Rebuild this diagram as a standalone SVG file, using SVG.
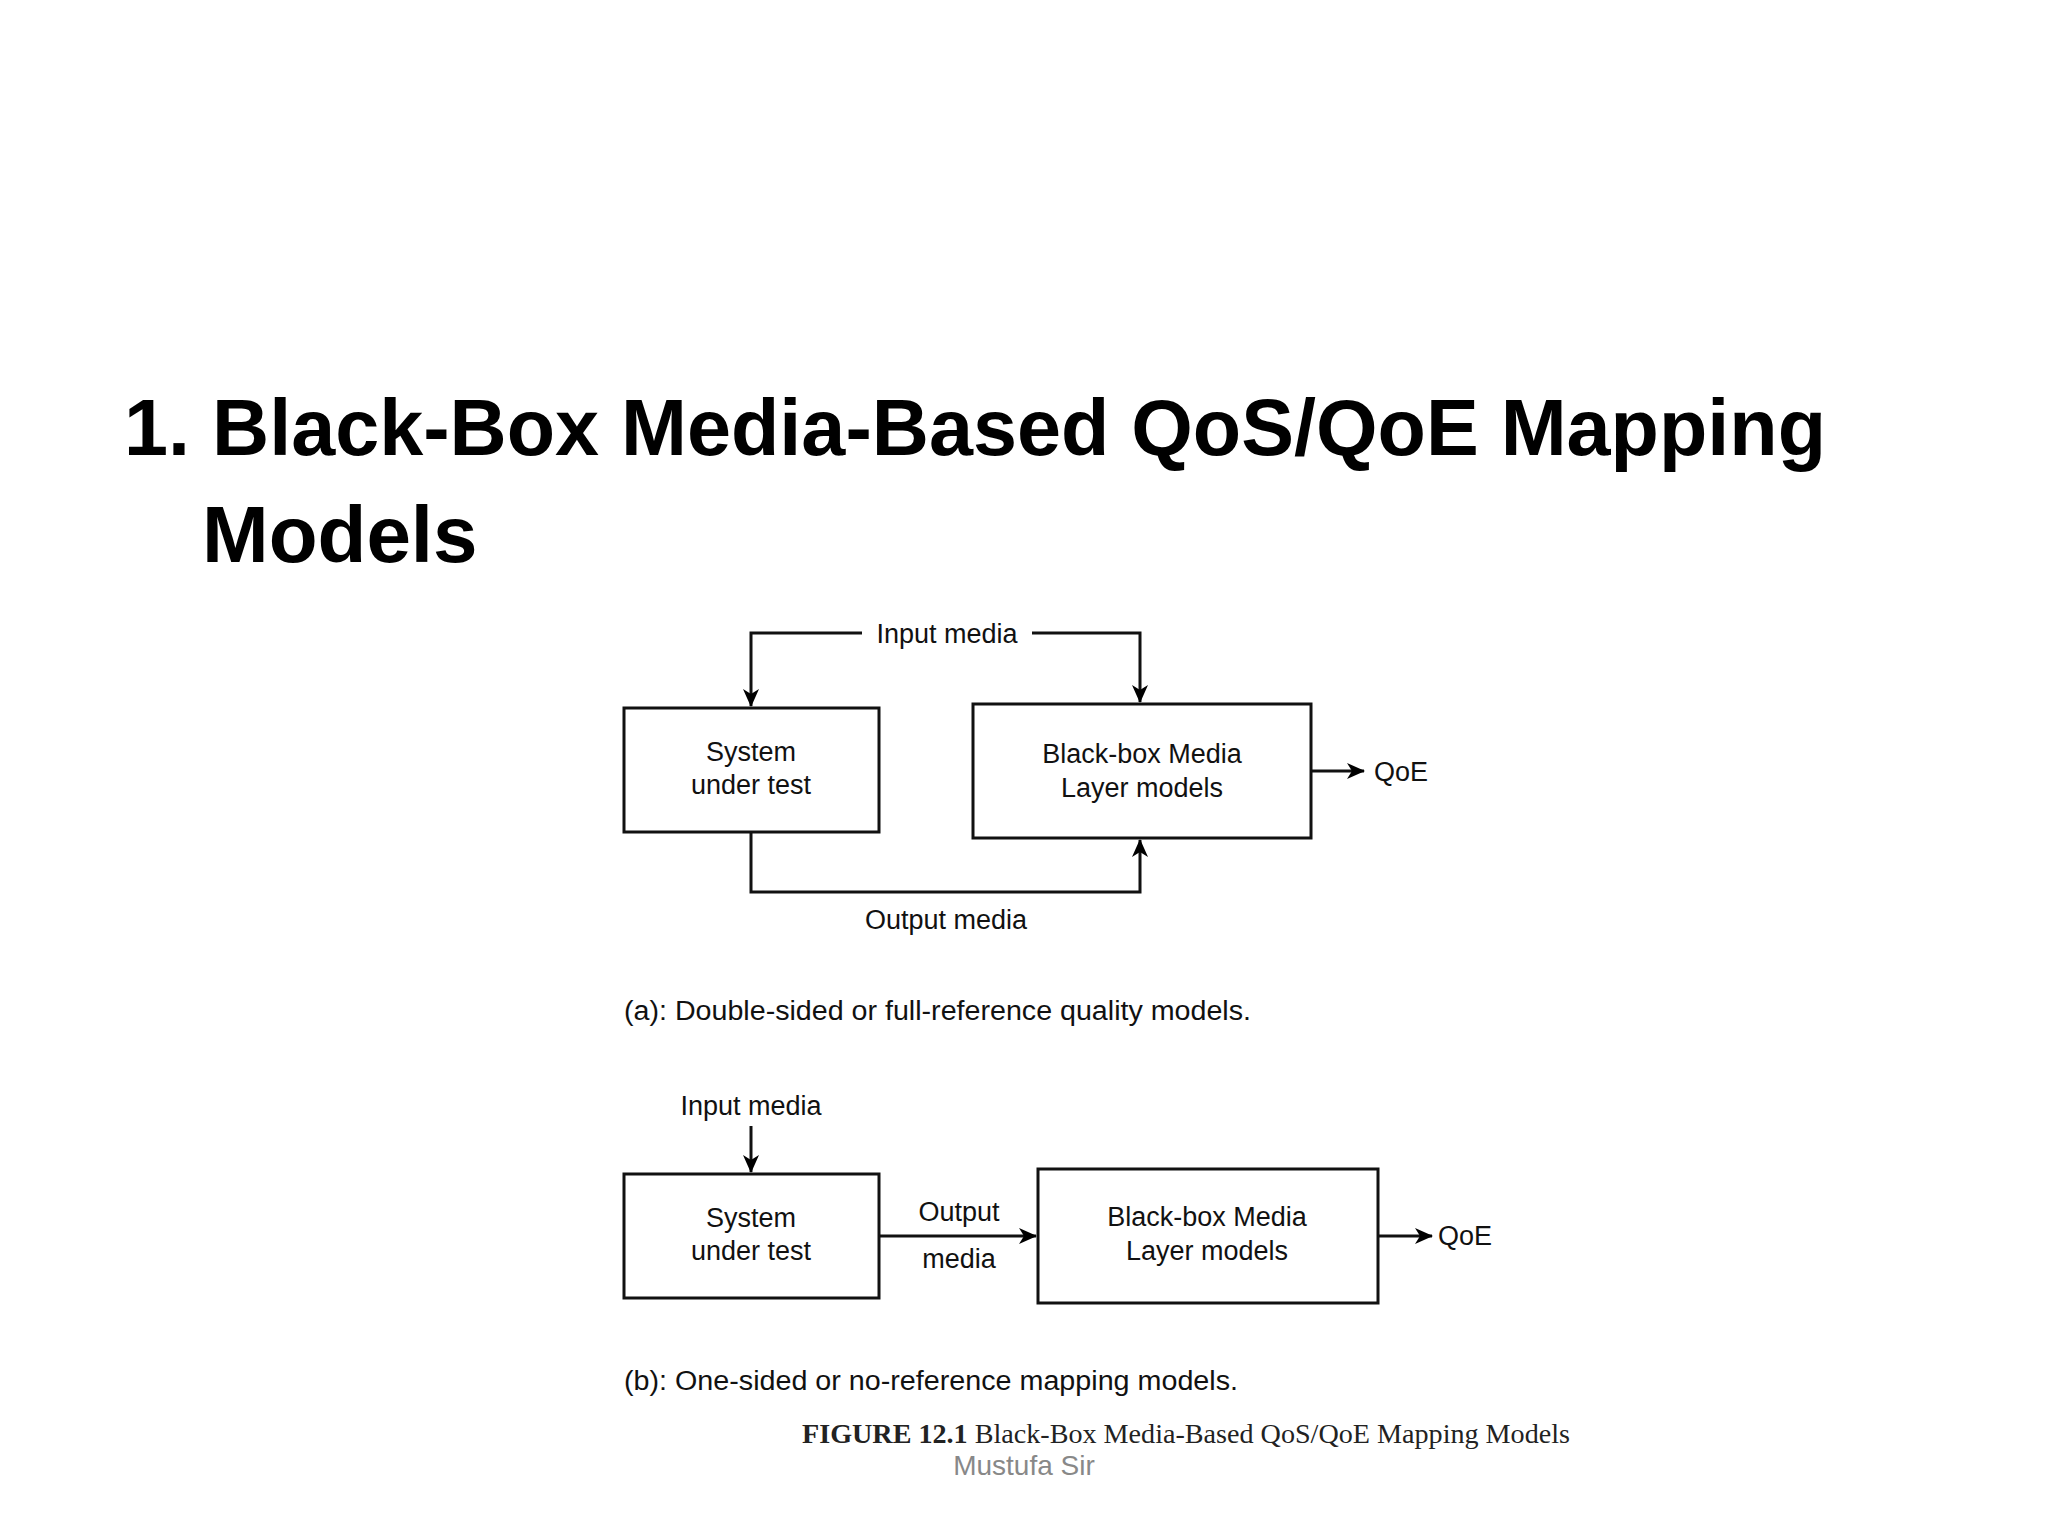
<svg xmlns="http://www.w3.org/2000/svg" width="2048" height="1536" viewBox="0 0 2048 1536">
<defs>
<marker id="ah" markerWidth="18" markerHeight="16" refX="17" refY="8" orient="auto" markerUnits="userSpaceOnUse"><path d="M0,0 L18,8 L0,16 L5,8 Z" fill="#000"/></marker>
<style>
.box{fill:#fff;stroke:#111;stroke-width:3}
.ln{fill:none;stroke:#111;stroke-width:3}
.t{font-family:"Liberation Sans",Arial,sans-serif;font-size:27px;fill:#111}
.c{text-anchor:middle}
.h{font-family:"Liberation Sans",Arial,sans-serif;font-weight:bold;font-size:80px;fill:#000}
</style>
</defs>
<rect width="2048" height="1536" fill="#fff"/>
<text class="h" x="124" y="455" textLength="1702" lengthAdjust="spacingAndGlyphs">1. Black-Box Media-Based QoS/QoE Mapping</text>
<text class="h" x="202" y="562">Models</text>

<g id="connectors">
<path class="ln" d="M862,633 H751 V706" marker-end="url(#ah)"/>
<path class="ln" d="M1032,633 H1140 V702" marker-end="url(#ah)"/>
<path class="ln" d="M1311,771 H1364" marker-end="url(#ah)"/>
<path class="ln" d="M751,832 V892 H1140 V840" marker-end="url(#ah)"/>
<path class="ln" d="M751,1126 V1172" marker-end="url(#ah)"/>
<path class="ln" d="M879,1236 H1036" marker-end="url(#ah)"/>
<path class="ln" d="M1378,1236 H1432" marker-end="url(#ah)"/>
</g>

<g id="a-sut"><rect class="box" x="624" y="708" width="255" height="124"/>
<text class="t c" x="751" y="761">System</text><text class="t c" x="751" y="794">under test</text></g>
<g id="a-bb"><rect class="box" x="973" y="704" width="338" height="134"/>
<text class="t c" x="1142" y="763">Black-box Media</text><text class="t c" x="1142" y="797">Layer models</text></g>
<text class="t c" x="947" y="643">Input media</text>
<text class="t" x="1374" y="781">QoE</text>
<text class="t c" x="946" y="929">Output media</text>
<text class="t" x="624" y="1020" textLength="627" lengthAdjust="spacingAndGlyphs">(a): Double-sided or full-reference quality models.</text>

<g id="b-sut"><rect class="box" x="624" y="1174" width="255" height="124"/>
<text class="t c" x="751" y="1227">System</text><text class="t c" x="751" y="1260">under test</text></g>
<g id="b-bb"><rect class="box" x="1038" y="1169" width="340" height="134"/>
<text class="t c" x="1207" y="1226">Black-box Media</text><text class="t c" x="1207" y="1260">Layer models</text></g>
<text class="t c" x="751" y="1115">Input media</text>
<text class="t c" x="959" y="1221">Output</text>
<text class="t c" x="959" y="1268">media</text>
<text class="t" x="1438" y="1245">QoE</text>
<text class="t" x="624" y="1390" textLength="614" lengthAdjust="spacingAndGlyphs">(b): One-sided or no-reference mapping models.</text>

<text x="802" y="1443" font-family="Liberation Serif,serif" font-size="27" fill="#222" textLength="768" lengthAdjust="spacingAndGlyphs"><tspan font-weight="bold">FIGURE 12.1</tspan> Black-Box Media-Based QoS/QoE Mapping Models</text>
<text x="1024" y="1475" text-anchor="middle" font-family="Liberation Sans,sans-serif" font-size="28" fill="#888">Mustufa Sir</text>
</svg>
